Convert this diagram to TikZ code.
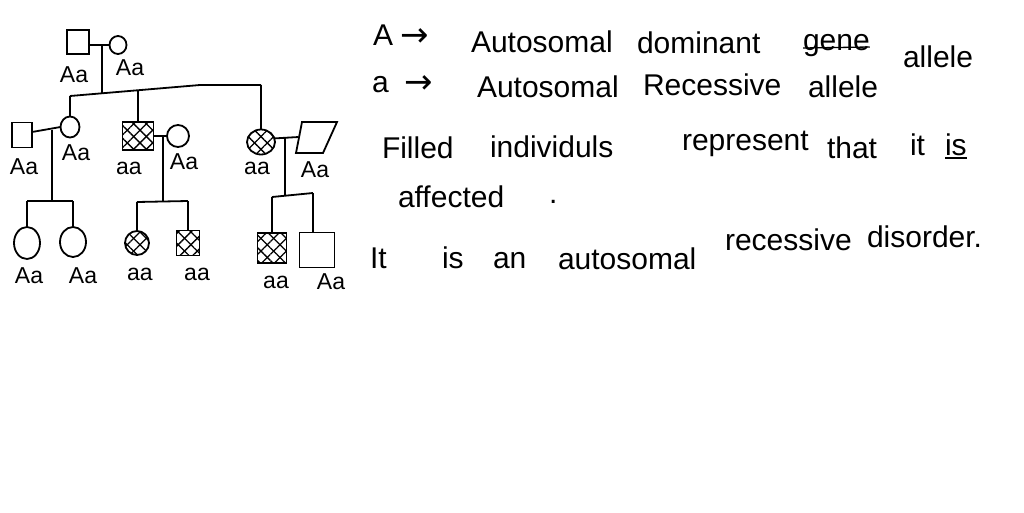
\documentclass[tikz,border=0pt]{standalone}
\usepackage{fontspec}
\setmainfont{Liberation Sans}
\newfontfamily\symfont{DejaVu Sans}
\usetikzlibrary{patterns.meta,calc,shapes.geometric}
\begin{document}
\begin{tikzpicture}[x=1pt,y=-1pt,line width=1.8pt,
  every node/.style={inner sep=0pt,outer sep=0pt},
  male/.style={draw,rectangle,line width=1.8pt},
  female/.style={draw,ellipse,line width=1.8pt},
  aff/.style={preaction={pattern={Lines[angle=45,distance=9pt,line width=1.3pt]}},
              pattern={Lines[angle=-45,distance=9pt,line width=1.3pt]}},
  geno/.style={font=\fontsize{23}{23}\selectfont,anchor=center},
  txt/.style={font=\fontsize{30}{30}\selectfont,anchor=base west},
  arr/.style={font=\symfont\fontsize{34}{34}\selectfont,anchor=base west},
]
\fill[white] (0,0) rectangle (1024,512);
\useasboundingbox (0,0) rectangle (1024,512);

% ---------- Generation I ----------
\node[male,minimum width=22pt,minimum height=24pt] (I1) at (78,42) {};
\node[female,minimum width=17pt,minimum height=18pt] (I2) at (118,45) {};

% ---------- Generation II ----------
\node[male,minimum width=20pt,minimum height=25pt] (II1) at (22,135) {};
\node[female,minimum width=19pt,minimum height=21pt] (II2) at (70,127) {};
\node[male,aff,minimum width=31pt,minimum height=28pt] (II3) at (138,136) {};
\node[female,minimum width=22pt,minimum height=22pt] (II4) at (178,136) {};
\node[female,aff,minimum width=28pt,minimum height=25pt] (II5) at (261,142) {};
\node[minimum width=41pt,minimum height=31pt] (II6) at (316,137) {};
\draw ($(II6)+(-14,-15)$) -- ($(II6)+(21,-15)$) -- ($(II6)+(7,16)$) -- ($(II6)+(-20,16)$) -- cycle;

% ---------- Generation III ----------
\node[female,minimum width=26pt,minimum height=32pt] (III1) at (27,243) {};
\node[female,minimum width=26pt,minimum height=30pt] (III2) at (73,242) {};
\node[female,aff,minimum width=24pt,minimum height=24pt] (III3) at (137,243) {};
\node[male,aff,minimum width=23pt,minimum height=25pt] (III4) at (188,243) {};
\node[male,aff,minimum width=29pt,minimum height=30pt] (III5) at (272,248) {};
\node[male,minimum width=35pt,minimum height=35pt] (III6) at (317,250) {};

% ---------- connectors ----------
\coordinate (m1) at (102,45);
\coordinate (d1) at (102,93);
\coordinate (s1a) at (70,96);
\coordinate (s1k) at (200,85);
\coordinate (s1c) at (261,85);
\coordinate (s1b) at (138,90);
\draw (I1.east |- m1) -- (I2.west |- m1);
\draw (m1) -- (d1);
\draw (s1a) -- (s1k) -- (s1c);
\draw (s1a) -- (II2.north);
\draw (s1b) -- (II3.north);
\draw (s1c) -- (II5.north);

\coordinate (m2) at (52,129.5);
\coordinate (d2) at (52,201);
\coordinate (s2a) at (27,201);
\coordinate (s2b) at (73,201);
\draw ([yshift=3pt]II1.east) -- (II2.west);
\draw (m2) -- (d2);
\draw (s2a) -- (s2b);
\draw (s2a) -- (III1.north);
\draw (s2b) -- (III2.north);

\coordinate (m3) at (163,136);
\coordinate (d3) at (163,201.5);
\coordinate (s3a) at (137,202);
\coordinate (s3b) at (188,201);
\draw (II3.east) -- (II4.west);
\draw (m3) -- (d3);
\draw (s3a) -- (s3b);
\draw (s3a) -- (III3.north);
\draw (s3b) -- (III4.north);

\coordinate (II6w) at ($(II6)+(-17.5,0)$);
\coordinate (m4) at (285,137);
\coordinate (d4) at (285,195.5);
\coordinate (s4a) at (272,197);
\coordinate (s4b) at (313,193);
\draw (II5.15) -- (II6w);
\draw (m4) -- (d4);
\draw (s4a) -- (s4b);
\draw (s4a) -- (III5.north);
\draw (s4b) -- (s4b |- III6.north);

% ---------- genotypes ----------
\node[geno] (gI1) at (74,75) {Aa};
\node[geno] (gI2) at (130,68) {Aa};
\node[geno] (gII1) at (24,167) {Aa};
\node[geno] (gII2) at (76,153) {Aa};
\node[geno] (gII3) at (129,168) {aa};
\node[geno] (gII4) at (184,162) {Aa};
\node[geno] (gII5) at (257,168) {aa};
\node[geno] (gII6) at (315,170) {Aa};
\node[geno] (gIII1) at (29,276) {Aa};
\node[geno] (gIII2) at (83,276) {Aa};
\node[geno] (gIII3) at (140,274) {aa};
\node[geno] (gIII4) at (197,274) {aa};
\node[geno] (gIII5) at (276,282) {aa};
\node[geno] (gIII6) at (331,282) {Aa};

% ---------- notes ----------
\node[txt] (tA) at (373,45) {A};
\node[arr] (tA2) at (400,46) {→};
\node[txt] (t1a) at (471,52) {Autosomal};
\node[txt] (t1b) at (637,53) {dominant};
\node[txt] (t1c) at (803,50) {gene};
\draw[line width=1.3pt] ([yshift=2pt]t1c.base west) -- ([yshift=3pt]t1c.base east);
\node[txt] (t1d) at (903,67) {allele};

\node[txt] (ta) at (372,92) {a};
\node[arr] (ta2) at (404,93) {→};
\node[txt] (t2a) at (477,97) {Autosomal};
\node[txt] (t2b) at (643,95) {Recessive};
\node[txt] (t2c) at (808,97) {allele};

\node[txt] (t3a) at (382,158) {Filled};
\node[txt] (t3b) at (490,157) {individuls};
\node[txt] (t3c) at (682,150) {represent};
\node[txt] (t3d) at (827,158) {that};
\node[txt] (t3e) at (910,155) {it};
\node[txt] (t3f) at (945,155) {is};
\draw[line width=1.3pt] ([yshift=-3pt]t3f.base west) -- ([yshift=-3pt]t3f.base east);

\node[txt] (t4a) at (398,207) {affected};
\node[txt] (t4b) at (549,203) {.};

\node[txt] (t5a) at (370,268) {It};
\node[txt] (t5b) at (442,268) {is};
\node[txt] (t5c) at (493,268) {an};
\node[txt] (t5d) at (558,269) {autosomal};
\node[txt] (t5e) at (725,250) {recessive};
\node[txt] (t5f) at (867,247) {disorder.};
\end{tikzpicture}
\end{document}
